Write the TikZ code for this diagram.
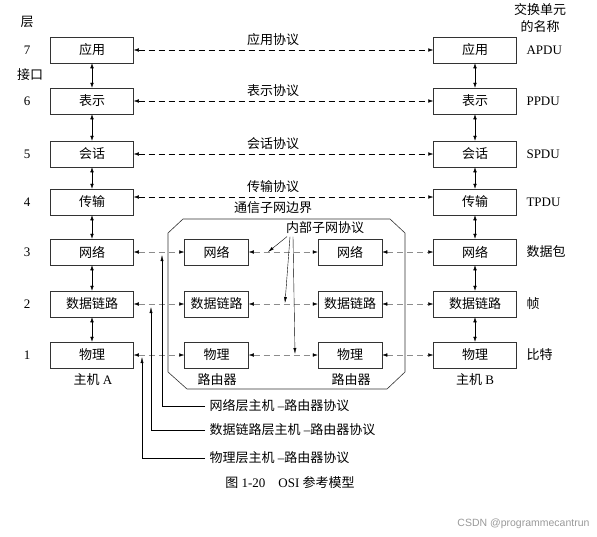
\documentclass[tikz,border=0pt]{standalone}
\usepackage{fontspec}
\setmainfont{Liberation Serif}
\newfontfamily\cjk{Noto Sans CJK SC}
\newfontfamily\wmfont{Liberation Sans}
\usetikzlibrary{arrows.meta}

\tikzset{
  layerbox/.style={draw=black!80, line width=0.5pt, minimum height=26pt, inner sep=0pt, font=\cjk},
  hostbox/.style={layerbox, minimum width=83pt},
  routerbox/.style={layerbox, minimum width=64pt},
  updown/.style={{Latex[length=5pt,width=3.5pt]}-{Latex[length=5pt,width=3.5pt]}},
  peer/.style={dash pattern=on 6pt off 4pt, {Latex[length=5pt,width=3.5pt,color=black]}-{Latex[length=5pt,width=3.5pt,color=black]}},
  lowline/.style={black!45},
  pointer/.style={-{Latex[length=6pt,width=3pt]}}
}

\begin{document}
\fontsize{13}{15}\selectfont
\begin{tikzpicture}[x=1pt,y=-1pt]
  \useasboundingbox (0,0) rectangle (597,536);
  % column heads
  \node[font=\cjk] (hl) at (27,22) {层};
  \node[font=\cjk] (hi) at (30,75) {接口};
  \node[font=\cjk] (hu1) at (540,10) {交换单元};
  \node[font=\cjk] (hu2) at (540,27) {的名称};
  % host layers
  \foreach \n/\y/\t/\u in {7/50/应用/APDU,6/101/表示/PPDU,5/154/会话/SPDU,4/202/传输/TPDU,
      3/252/网络/{\cjk 数据包},2/304/数据链路/{\cjk 帧},1/355/物理/{\cjk 比特}}{
    \node (num\n) at (27,\y) {\n};
    \node[hostbox] (a\n) at (92,\y) {\t};
    \node[hostbox] (b\n) at (475,\y) {\t};
    \node[anchor=west] (unit\n) at (522,\y) {\u};
  }
  \foreach \i/\j in {7/6,6/5,5/4,4/3,3/2,2/1}{
    \draw[updown] (a\i) -- (a\j);
    \draw[updown] (b\i) -- (b\j);
  }
  \node (hA) at (93,380) {{\cjk 主机} A};
  \node (hB) at (475,380) {{\cjk 主机} B};
  % peer protocols
  \foreach \n/\t in {7/应用协议,6/表示协议,5/会话协议}
    \draw[peer] (a\n) -- node[pos=0.465,above,font=\cjk] {\t} (b\n);
  \draw[peer] ([yshift=5pt]a4.east) -- node[pos=0.465,above,font=\cjk] {传输协议} ([yshift=5pt]b4.west);
  % communication subnet
  \draw[black!80, line width=0.6pt] (168,233) -- (183,219) -- (390,219) -- (405,233) -- (405,372)
    -- (387,389) -- (187,389) -- (168,372) -- cycle;
  \node[font=\cjk] (bd) at (273,208) {通信子网边界};
  \foreach \n/\y/\t in {3/252/网络,2/304/数据链路,1/355/物理}{
    \node[routerbox] (r\n) at (216.5,\y) {\t};
    \node[routerbox] (s\n) at (350,\y) {\t};
  }
  \node[font=\cjk] (rt1) at (217,380) {路由器};
  \node[font=\cjk] (rt2) at (351,380) {路由器};
  \foreach \n in {3,2,1}{
    \draw[peer,lowline] (a\n) -- (r\n);
    \draw[peer,lowline] (r\n) -- (s\n);
    \draw[peer,lowline] (s\n) -- (b\n);
  }
  % inner subnet protocol
  \node[font=\cjk] (ip) at (325,228) {内部子网协议};
  \coordinate (ip3) at (268,252);
  \coordinate (ip2) at (285,303);
  \coordinate (ip1) at (295,354);
  \draw[pointer] ([xshift=-38pt,yshift=2pt]ip.south) -- (ip3);
  \draw[pointer] ([xshift=-35pt,yshift=2pt]ip.south) -- (ip2);
  \draw[pointer] ([xshift=-32pt,yshift=2pt]ip.south) -- (ip1);
  % host-router protocols
  \node[anchor=west] (hr3) at (205,406) {{\cjk 网络层主机} –{\cjk 路由器协议}};
  \node[anchor=west] (hr2) at (205,430) {{\cjk 数据链路层主机} –{\cjk 路由器协议}};
  \node[anchor=west] (hr1) at (205,458) {{\cjk 物理层主机} –{\cjk 路由器协议}};
  \coordinate (t3) at (162,255);
  \coordinate (t2) at (151,307);
  \coordinate (t1) at (142,357);
  \draw[pointer] (hr3.west) -| (t3);
  \draw[pointer] (hr2.west) -| (t2);
  \draw[pointer] (hr1.west) -| (t1);
  % caption
  \node (cap) at (290,483) {{\cjk 图} 1-20\quad OSI {\cjk 参考模型}};
  \node[anchor=east, text=black!40, font=\wmfont\fontsize{10.5}{12}\selectfont] (wm) at (594,524) {CSDN @programmecantrun};
\end{tikzpicture}
\end{document}
